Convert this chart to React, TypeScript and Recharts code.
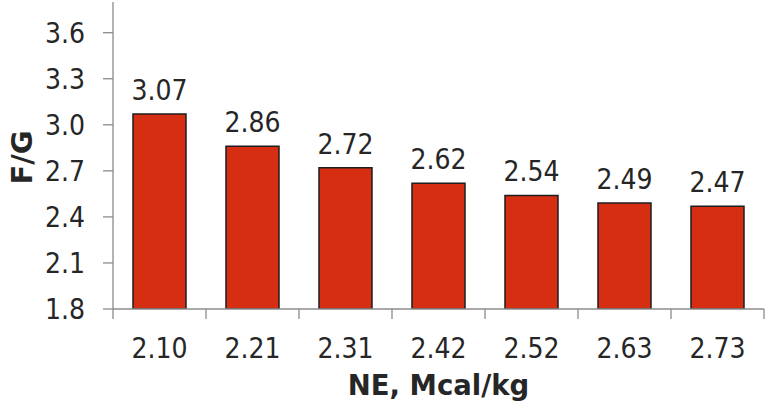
import { BarChart, Bar, XAxis, YAxis, LabelList, Label } from 'recharts';

const neLevels = ['2.10', '2.21', '2.31', '2.42', '2.52', '2.63', '2.73'];
const feedGain = [3.07, 2.86, 2.72, 2.62, 2.54, 2.49, 2.47];
const yTicks = [1.8, 2.1, 2.4, 2.7, 3.0, 3.3, 3.6];

const FONT = '"DejaVu Sans Condensed", "DejaVu Sans", sans-serif';
const TEXT = '#262626';
const AXIS = '#8c8c8c';

const W = 770;
const H = 412;
const LEFT = 113;
const RIGHT = 6;
const BAND = (W - LEFT - RIGHT) / neLevels.length;

const XTick = (props: any) => {
    const { x, y, payload, index } = props;
    return (
        <g>
            <line x1={x - BAND / 2} x2={x - BAND / 2} y1={y} y2={y + 10} stroke={AXIS} strokeWidth={1.3} />
            {index === neLevels.length - 1 && (
                <line x1={x + BAND / 2} x2={x + BAND / 2} y1={y} y2={y + 10} stroke={AXIS} strokeWidth={1.3} />
            )}
            <text x={x} y={y + 49} textAnchor="middle" fontSize={28} fill={TEXT} fontFamily={FONT}>
                {payload.value}
            </text>
        </g>
    );
};

export default function App() {
    const data = neLevels.map((ne, i) => ({ ne, fg: feedGain[i] }));

    return (
        <div style={{ position: 'absolute', left: 0, top: 0, width: W, height: H, background: '#fff' }}>
            <BarChart width={W} height={H} data={data} margin={{ top: 2, right: RIGHT, bottom: 0, left: 0 }} barCategoryGap="21.5%">
                <XAxis
                    dataKey="ne"
                    height={103}
                    stroke={AXIS}
                    strokeWidth={1.3}
                    tickLine={false}
                    tickSize={0}
                    tickMargin={0}
                    interval={0}
                    tick={<XTick />}
                >
                    <Label
                        content={({ viewBox }: any) => (
                            <text
                                x={viewBox.x + viewBox.width / 2}
                                y={viewBox.y + 86}
                                textAnchor="middle"
                                fontSize={27.5}
                                fontWeight="bold"
                                fill={TEXT}
                                fontFamily='"DejaVu Sans", sans-serif'
                            >
                                NE, Mcal/kg
                            </text>
                        )}
                    />
                </XAxis>
                <YAxis
                    width={LEFT}
                    domain={[1.8, 3.8]}
                    ticks={yTicks}
                    interval={0}
                    allowDataOverflow
                    stroke={AXIS}
                    strokeWidth={1.3}
                    tickSize={10}
                    tickMargin={18}
                    tickFormatter={(v: number) => v.toFixed(1)}
                    tick={{ fontSize: 28, fill: TEXT, fontFamily: FONT }}
                >
                    <Label
                        content={({ viewBox }: any) => {
                            const cx = 22;
                            const cy = viewBox.y + viewBox.height / 2 + 2;
                            return (
                                <text
                                    x={cx}
                                    y={cy}
                                    transform={`rotate(-90 ${cx} ${cy})`}
                                    textAnchor="middle"
                                    dominantBaseline="central"
                                    fontSize={29}
                                    fontWeight="bold"
                                    fill={TEXT}
                                    fontFamily='"DejaVu Sans", sans-serif'
                                >
                                    F/G
                                </text>
                            );
                        }}
                    />
                </YAxis>
                <Bar dataKey="fg" fill="#d52e13" stroke="#1e1e1e" strokeWidth={1.5} isAnimationActive={false}>
                    <LabelList
                        dataKey="fg"
                        position="top"
                        offset={14}
                        formatter={(v: any) => Number(v).toFixed(2)}
                        style={{ fontSize: 28, fill: TEXT, fontFamily: FONT }}
                    />
                </Bar>
            </BarChart>
        </div>
    );
}
